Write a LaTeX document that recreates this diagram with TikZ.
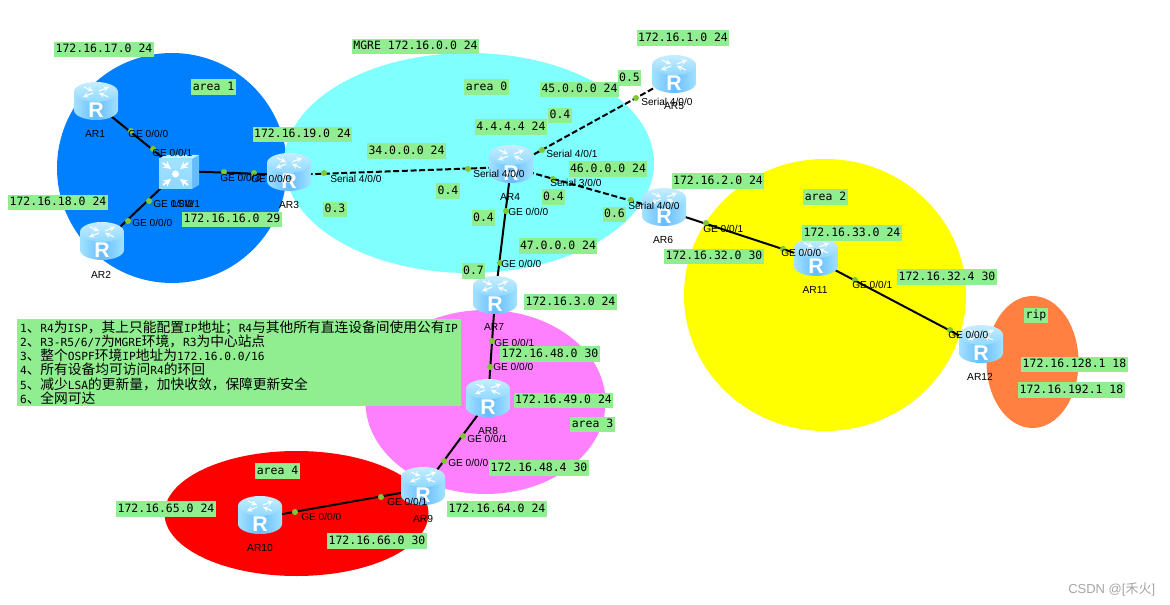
\documentclass[tikz,border=0pt]{standalone}
\usepackage{fontspec}
\setmainfont{Liberation Sans}
\newfontfamily\monofnt{DejaVu Sans Mono}
\newfontfamily\cjk{Noto Sans CJK SC}
\newcommand{\cn}[1]{{\cjk\fontsize{10.3}{10.7}\selectfont #1}}
\definecolor{tagfill}{HTML}{90EE90}
\definecolor{dotgreen}{HTML}{7FC832}
\definecolor{areablue}{HTML}{0080FF}
\definecolor{areacyan}{HTML}{80FFFF}
\definecolor{areayellow}{HTML}{FFFF00}
\definecolor{areaorange}{HTML}{FF8040}
\definecolor{areapink}{HTML}{FF80FF}
\definecolor{areared}{HTML}{FF0000}
\definecolor{sidelight}{HTML}{A2E2FF}
\definecolor{sidedark}{HTML}{66BCFF}
\definecolor{toplight}{HTML}{C6EEFF}
\definecolor{topdark}{HTML}{90D8FF}
\tikzset{
  tag/.style={fill=tagfill,font=\monofnt\fontsize{8.6}{10}\selectfont,inner xsep=1.1pt,inner ysep=1.9pt,text height=6.5pt,text depth=1.5pt},
  notebox/.style={fill=tagfill,font=\monofnt\fontsize{8.4}{10.7}\selectfont,align=left,minimum width=333pt,minimum height=65.25pt,inner xsep=0pt,inner ysep=0pt},
  portdot/.style={circle,fill=dotgreen,inner sep=0pt,minimum size=4.5pt},
  portlab/.style={anchor=west,inner sep=0pt,font=\fontsize{7.6}{9}\selectfont},
  devlab/.style={inner sep=0pt,font=\fontsize{7.7}{9}\selectfont},
  devspot/.style={inner sep=0pt,minimum size=0pt},
  link/.style={line width=1.5pt,black},
  serial/.style={link,dash pattern=on 4.5pt off 2pt},
  routericon/.pic={
    \path[left color=sidelight,right color=sidelight,middle color=sidedark] (-22,-12)--(-22,6) arc[start angle=180,end angle=0,x radius=22,y radius=10]--(22,-12)--cycle;
    \path[top color=toplight,bottom color=topdark] (0,-12) ellipse [x radius=22,y radius=10];
    \draw[white,line width=.8pt,-stealth] (-12,-17)--(-3,-13);
    \draw[white,line width=.8pt,-stealth] (12,-7)--(3,-11);
    \draw[white,line width=.8pt,-stealth] (3,-13)--(13,-17);
    \draw[white,line width=.8pt,-stealth] (-3,-11)--(-13,-7);
    \node (rletter) at (0,6.5)[white,inner sep=0pt,font=\bfseries\fontsize{16}{16}\selectfont]{R};
  },
  switchicon/.pic={
    \fill[sidedark] (13,-12)--(20,-16)--(20,14)--(13,18)--cycle;
    \fill[toplight] (-20,-12)--(-14,-16)--(20,-16)--(13,-12)--cycle;
    \path[top color=sidelight,bottom color=topdark] (-20,-12) rectangle (13,18);
    \fill[white] (-3.5,3) circle (3.5);
    \draw[white,line width=1.5pt,-stealth] (-16,-8)--(-8,-2);
    \draw[white,line width=1.5pt,-stealth] (9,-8)--(1,-2);
    \draw[white,line width=1.5pt,-stealth] (-16,14)--(-8,8);
    \draw[white,line width=1.5pt,-stealth] (9,14)--(1,8);
  }
}
\begin{document}
\begin{tikzpicture}[x=.75pt,y=-.75pt]
\useasboundingbox (0,0) rectangle (1170,605);
\fill[white] (0,0) rectangle (1170,605);
\fill[areablue] (172,168) ellipse [x radius=115,y radius=115];
\fill[areacyan] (469,163) ellipse [x radius=185,y radius=110];
\fill[areayellow] (825,295) ellipse [x radius=141,y radius=136];
\fill[areaorange] (1032.5,362) ellipse [x radius=46,y radius=66];
\fill[areapink] (485.5,402) ellipse [x radius=120,y radius=92];
\fill[areared] (296.5,513.5) ellipse [x radius=132,y radius=62.5];
\node (note) at (239,362.5)[notebox]{1\cn{、}R4\cn{为}ISP\cn{，其上只能配置}IP\cn{地址；}R4\cn{与其他所有直连设备间使用公有}IP\\
2\cn{、}R3-R5/6/7\cn{为}MGRE\cn{环境，}R3\cn{为中心站点}\\
3\cn{、整个}OSPF\cn{环境}IP\cn{地址为}172.16.0.0/16\\
4\cn{、所有设备均可访问}R4\cn{的环回}\\
5\cn{、减少}LSA\cn{的更新量，加快收敛，保障更新安全}\\
6\cn{、全网可达}};
\node (ar1) at (96,104)[devspot]{};
\node (ar2) at (102,244)[devspot]{};
\node (lsw) at (179,171)[devspot]{};
\node (ar3) at (289,175)[devspot]{};
\node (ar4) at (511,167)[devspot]{};
\node (ar5) at (674,77)[devspot]{};
\node (ar6) at (664,210)[devspot]{};
\node (ar7) at (495,298)[devspot]{};
\node (ar8) at (488,401)[devspot]{};
\node (ar9) at (423,489)[devspot]{};
\node (ar10) at (260,518)[devspot]{};
\node (ar11) at (816,260)[devspot]{};
\node (ar12) at (981,347)[devspot]{};
\draw[link] (ar1)--(lsw);
\draw[link] (ar2)--(lsw);
\draw[link] (lsw)--(ar3);
\draw[serial] (ar3)--(ar4);
\draw[serial] (ar4)--(ar5);
\draw[serial] (ar4)--(ar6);
\draw[link] (ar4)--(ar7);
\draw[link] (ar6)--(ar11);
\draw[link] (ar11)--(ar12);
\draw[link] (ar7)--(ar8);
\draw[link] (ar8)--(ar9);
\draw[link] (ar9)--(ar10);
\pic (ar1i) at (ar1) {routericon};
\pic (ar2i) at (ar2) {routericon};
\pic (lswi) at (lsw) {switchicon};
\pic (ar3i) at (ar3) {routericon};
\pic (ar4i) at (ar4) {routericon};
\pic (ar5i) at (ar5) {routericon};
\pic (ar6i) at (ar6) {routericon};
\pic (ar7i) at (ar7) {routericon};
\pic (ar8i) at (ar8) {routericon};
\pic (ar9i) at (ar9) {routericon};
\pic (ar10i) at (ar10) {routericon};
\pic (ar11i) at (ar11) {routericon};
\pic (ar12i) at (ar12) {routericon};
\node (ar1t) at (95,134)[devlab]{AR1};
\node (ar2t) at (101,275)[devlab]{AR2};
\node (lswt) at (186,204)[devlab]{LSW1};
\node (ar3t) at (289,205)[devlab]{AR3};
\node (ar4t) at (510,197)[devlab]{AR4};
\node (ar5t) at (674,106)[devlab]{AR5};
\node (ar6t) at (663,240)[devlab]{AR6};
\node (ar7t) at (494,327)[devlab]{AR7};
\node (ar8t) at (488,431)[devlab]{AR8};
\node (ar9t) at (423,519)[devlab]{AR9};
\node (ar10t) at (260,548)[devlab]{AR10};
\node (ar11t) at (815,290)[devlab]{AR11};
\node (ar12t) at (980,377)[devlab]{AR12};
\node (d1) at (131,131)[portdot]{};
\node (d2) at (153,149)[portdot]{};
\node (d3) at (149,201)[portdot]{};
\node (d4) at (128,221)[portdot]{};
\node (d5) at (224,172)[portdot]{};
\node (d6) at (254,173)[portdot]{};
\node (d7) at (324,173)[portdot]{};
\node (d8) at (468,169)[portdot]{};
\node (d9) at (542,150)[portdot]{};
\node (d10) at (636,98)[portdot]{};
\node (d11) at (553,179)[portdot]{};
\node (d12) at (631,200)[portdot]{};
\node (d13) at (506,211)[portdot]{};
\node (d14) at (500,263)[portdot]{};
\node (d15) at (706,223)[portdot]{};
\node (d16) at (783,249)[portdot]{};
\node (d17) at (855,280)[portdot]{};
\node (d18) at (950,330)[portdot]{};
\node (d19) at (492,341)[portdot]{};
\node (d20) at (490,367)[portdot]{};
\node (d21) at (463,436)[portdot]{};
\node (d22) at (444,461)[portdot]{};
\node (d23) at (381,497)[portdot]{};
\node (d24) at (295,512)[portdot]{};
\node (g1) at (128,134)[portlab]{GE 0/0/0};
\node (g2) at (152,153)[portlab]{GE 0/0/1};
\node (g3) at (153,204)[portlab]{GE 0/0/2};
\node (g4) at (132,223)[portlab]{GE 0/0/0};
\node (g5) at (220,178)[portlab]{GE 0/0/3};
\node (g6) at (251,179)[portlab]{GE 0/0/0};
\node (g7) at (330,179)[portlab]{Serial 4/0/0};
\node (g8) at (473,174)[portlab]{Serial 4/0/0};
\node (g9) at (546,154)[portlab]{Serial 4/0/1};
\node (g10) at (641,102)[portlab]{Serial 4/0/0};
\node (g11) at (550,183)[portlab]{Serial 3/0/0};
\node (g12) at (628,206)[portlab]{Serial 4/0/0};
\node (g13) at (508,212)[portlab]{GE 0/0/0};
\node (g14) at (501,264)[portlab]{GE 0/0/0};
\node (g15) at (703,229)[portlab]{GE 0/0/1};
\node (g16) at (781,253)[portlab]{GE 0/0/0};
\node (g17) at (852,285)[portlab]{GE 0/0/1};
\node (g18) at (948,335)[portlab]{GE 0/0/0};
\node (g19) at (494,343)[portlab]{GE 0/0/1};
\node (g20) at (493,367)[portlab]{GE 0/0/0};
\node (g21) at (467,439)[portlab]{GE 0/0/1};
\node (g22) at (448,463)[portlab]{GE 0/0/0};
\node (g23) at (387,502)[portlab]{GE 0/0/1};
\node (g24) at (301,517)[portlab]{GE 0/0/0};
\node (t1) at (104,49.5)[tag]{172.16.17.0 24};
\node (t2) at (213.5,87)[tag]{area 1};
\node (t3) at (302.5,134.5)[tag]{172.16.19.0 24};
\node (t4) at (58,202.5)[tag]{172.16.18.0 24};
\node (t5) at (232,219.5)[tag]{172.16.16.0 29};
\node (t6) at (415.5,46.5)[tag]{MGRE 172.16.0.0 24};
\node (t7) at (486.5,87)[tag]{area 0};
\node (t8) at (579.5,89.5)[tag]{45.0.0.0 24};
\node (t9) at (629.5,78)[tag]{0.5};
\node (t10) at (683,38)[tag]{172.16.1.0 24};
\node (t11) at (560,115.5)[tag]{0.4};
\node (t12) at (511,127)[tag]{4.4.4.4 24};
\node (t13) at (406.5,151)[tag]{34.0.0.0 24};
\node (t14) at (608,169)[tag]{46.0.0.0 24};
\node (t15) at (448,191)[tag]{0.4};
\node (t16) at (335,209.5)[tag]{0.3};
\node (t17) at (553.5,197)[tag]{0.4};
\node (t18) at (483.5,218)[tag]{0.4};
\node (t19) at (614.5,214.5)[tag]{0.6};
\node (t20) at (558,246)[tag]{47.0.0.0 24};
\node (t21) at (473.5,271)[tag]{0.7};
\node (t22) at (718,181)[tag]{172.16.2.0 24};
\node (t23) at (714,256.5)[tag]{172.16.32.0 30};
\node (t24) at (825.5,197)[tag]{area 2};
\node (t25) at (852,233)[tag]{172.16.33.0 24};
\node (t26) at (947,277)[tag]{172.16.32.4 30};
\node (t27) at (1036,315.5)[tag]{rip};
\node (t28) at (1074.5,364.5)[tag]{172.16.128.1 18};
\node (t29) at (1071.5,390)[tag]{172.16.192.1 18};
\node (t30) at (570.5,302)[tag]{172.16.3.0 24};
\node (t31) at (550,354)[tag]{172.16.48.0 30};
\node (t32) at (563.5,400.5)[tag]{172.16.49.0 24};
\node (t33) at (592.5,424.5)[tag]{area 3};
\node (t34) at (539,468)[tag]{172.16.48.4 30};
\node (t35) at (497,509)[tag]{172.16.64.0 24};
\node (t36) at (277.5,471)[tag]{area 4};
\node (t37) at (166,509)[tag]{172.16.65.0 24};
\node (t38) at (377,541)[tag]{172.16.66.0 30};
\node (mark) at (1068,589)[anchor=west,inner sep=0pt,text=black!35,font=\fontsize{9.75}{11}\selectfont]{CSDN @[{\cjk 禾火}]};
\end{tikzpicture}
\end{document}
